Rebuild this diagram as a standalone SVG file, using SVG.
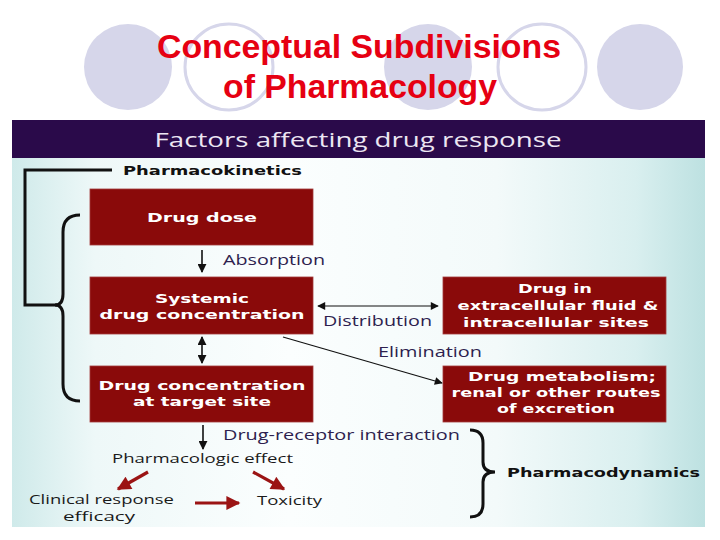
<svg xmlns="http://www.w3.org/2000/svg" width="720" height="540" viewBox="0 0 720 540">
<defs>
<linearGradient id="bg" x1="0" y1="0" x2="1" y2="0">
<stop offset="0" stop-color="#cfeaea"/>
<stop offset="0.12" stop-color="#eef8f8"/>
<stop offset="0.4" stop-color="#fbfefe"/>
<stop offset="0.7" stop-color="#f3fafa"/>
<stop offset="0.9" stop-color="#d9efef"/>
<stop offset="1" stop-color="#bde1e1"/>
</linearGradient>
<marker id="ah" viewBox="0 0 10 10" refX="9" refY="5" markerWidth="9" markerHeight="9" markerUnits="userSpaceOnUse" orient="auto-start-reverse">
<path d="M0,0 L10,5 L0,10 z" fill="#111"/>
</marker>
<marker id="ahs" viewBox="0 0 10 10" refX="9" refY="5" markerWidth="9" markerHeight="8" markerUnits="userSpaceOnUse" orient="auto-start-reverse">
<path d="M0,0 L10,5 L0,10 z" fill="#111"/>
</marker>
<marker id="ahr" viewBox="0 0 10 10" refX="9" refY="5" markerWidth="15" markerHeight="14" markerUnits="userSpaceOnUse" orient="auto">
<path d="M0,0 L10,5 L0,10 z" fill="#9b1414"/>
</marker>
<style>
.title{font-family:"Liberation Sans",Arial,sans-serif;font-weight:bold;font-size:34px;fill:#e60012;text-anchor:middle}
.cf{fill:#d6d6ea}
.co{fill:#ffffff;stroke:#d6d6ea;stroke-width:3}
.box{fill:#8a0a0a;stroke:#a23a3a;stroke-width:0.8}
.bt{font-family:"DejaVu Sans",Verdana,sans-serif;font-weight:bold;font-size:13px;fill:#ffffff;text-anchor:middle}
.lbl{font-family:"Open Sans","DejaVu Sans",sans-serif;font-size:14px;fill:#2e1f4f}
.blk{font-family:"Open Sans","DejaVu Sans",sans-serif;font-size:13.5px;fill:#1a1a1a}
.hd{font-family:"DejaVu Sans",Verdana,sans-serif;font-weight:bold;font-size:12.5px;fill:#111}
.br{fill:none;stroke:#111;stroke-width:3}
.ln{stroke:#111;stroke-width:1.6;fill:none}
.lnt{stroke:#111;stroke-width:1.2;fill:none}
.rd{stroke:#9b1414;stroke-width:3.2;fill:none}
</style>
</defs>
<rect x="0" y="0" width="720" height="540" fill="#ffffff"/>
<g id="decor">
<ellipse class="cf" cx="128" cy="67" rx="44" ry="43"/>
<ellipse class="co" cx="229" cy="67" rx="44" ry="43"/>
<ellipse class="cf" cx="428" cy="67" rx="44" ry="43"/>
<ellipse class="co" cx="542" cy="67" rx="44" ry="43"/>
<ellipse class="cf" cx="640" cy="67" rx="43" ry="43"/>
</g>
<g id="title">
<text class="title" x="359" y="58" textLength="404" lengthAdjust="spacingAndGlyphs">Conceptual Subdivisions</text>
<text class="title" x="360" y="98" textLength="274" lengthAdjust="spacingAndGlyphs">of Pharmacology</text>
</g>
<g id="panel">
<rect x="12" y="158" width="693" height="369" fill="url(#bg)"/>
<rect x="12" y="120" width="693" height="38" fill="#2a0a4a"/>
<text x="358" y="147" font-family="'Open Sans','DejaVu Sans',sans-serif" font-size="20" fill="#ece6f2" text-anchor="middle" textLength="407" lengthAdjust="spacingAndGlyphs">Factors affecting drug response</text>
</g>
<g id="pharmacokinetics">
<path class="br" d="M112,170 H25 V305 H57"/>
<path class="br" d="M80,215 Q63,215 63,232 V294 Q63,305 55,305 Q63,305 63,316 V384 Q63,401 80,401"/>
<text class="hd" x="123" y="175" textLength="179" lengthAdjust="spacingAndGlyphs">Pharmacokinetics</text>
</g>
<g id="pharmacodynamics">
<path class="br" d="M470,430 Q483,430 483,443 V462 Q483,472 495,472 Q483,472 483,482 V504 Q483,517 470,517"/>
<text class="hd" x="507" y="477" textLength="193" lengthAdjust="spacingAndGlyphs">Pharmacodynamics</text>
</g>
<g id="drug-dose">
<rect class="box" x="90" y="189" width="223" height="56"/>
<text class="bt" x="202" y="222" textLength="110" lengthAdjust="spacingAndGlyphs">Drug dose</text>
</g>
<g id="systemic">
<rect class="box" x="90" y="277" width="223" height="57"/>
<text class="bt" x="202" y="303" textLength="94" lengthAdjust="spacingAndGlyphs">Systemic</text>
<text class="bt" x="202" y="319" textLength="205" lengthAdjust="spacingAndGlyphs">drug concentration</text>
</g>
<g id="target-site">
<rect class="box" x="90" y="366" width="223" height="56"/>
<text class="bt" x="202" y="390" textLength="207" lengthAdjust="spacingAndGlyphs">Drug concentration</text>
<text class="bt" x="202" y="406" textLength="138" lengthAdjust="spacingAndGlyphs">at target site</text>
</g>
<g id="extracellular">
<rect class="box" x="443" y="277" width="223" height="57"/>
<text class="bt" x="555" y="293" textLength="74" lengthAdjust="spacingAndGlyphs">Drug in</text>
<text class="bt" x="558" y="310" textLength="201" lengthAdjust="spacingAndGlyphs">extracellular fluid &amp;</text>
<text class="bt" x="556" y="327" textLength="186" lengthAdjust="spacingAndGlyphs">intracellular sites</text>
</g>
<g id="metabolism">
<rect class="box" x="443" y="366" width="223" height="56"/>
<text class="bt" x="562" y="381" textLength="188" lengthAdjust="spacingAndGlyphs">Drug metabolism;</text>
<text class="bt" x="556" y="397" textLength="209" lengthAdjust="spacingAndGlyphs">renal or other routes</text>
<text class="bt" x="556" y="413" textLength="118" lengthAdjust="spacingAndGlyphs">of excretion</text>
</g>
<g id="effects">
<text class="blk" x="112" y="463" textLength="181" lengthAdjust="spacingAndGlyphs">Pharmacologic effect</text>
<text class="blk" x="29" y="504" textLength="145" lengthAdjust="spacingAndGlyphs">Clinical response</text>
<text class="blk" x="63" y="521" textLength="72" lengthAdjust="spacingAndGlyphs">efficacy</text>
<text class="blk" x="257" y="505" textLength="65" lengthAdjust="spacingAndGlyphs">Toxicity</text>
</g>
<g id="connectors">
<line class="ln" x1="202" y1="250" x2="202" y2="272" marker-end="url(#ah)"/>
<text class="lbl" x="223" y="265" textLength="102" lengthAdjust="spacingAndGlyphs">Absorption</text>
<line class="ln" x1="202" y1="337" x2="202" y2="363" marker-start="url(#ah)" marker-end="url(#ah)"/>
<line class="lnt" x1="318" y1="306" x2="438" y2="306" marker-start="url(#ahs)" marker-end="url(#ahs)"/>
<text class="lbl" x="323" y="326" textLength="109" lengthAdjust="spacingAndGlyphs">Distribution</text>
<line class="lnt" x1="283" y1="337" x2="442" y2="383" marker-end="url(#ahs)"/>
<text class="lbl" x="378" y="357" textLength="104" lengthAdjust="spacingAndGlyphs">Elimination</text>
<line class="ln" x1="203" y1="425" x2="203" y2="449" marker-end="url(#ah)"/>
<text class="lbl" x="223" y="440" textLength="237" lengthAdjust="spacingAndGlyphs">Drug-receptor interaction</text>
<line class="rd" x1="148" y1="472" x2="118" y2="489" marker-end="url(#ahr)"/>
<line class="rd" x1="253" y1="472" x2="284" y2="489" marker-end="url(#ahr)"/>
<line class="rd" x1="195" y1="503" x2="239" y2="503" marker-end="url(#ahr)"/>
</g>
</svg>
